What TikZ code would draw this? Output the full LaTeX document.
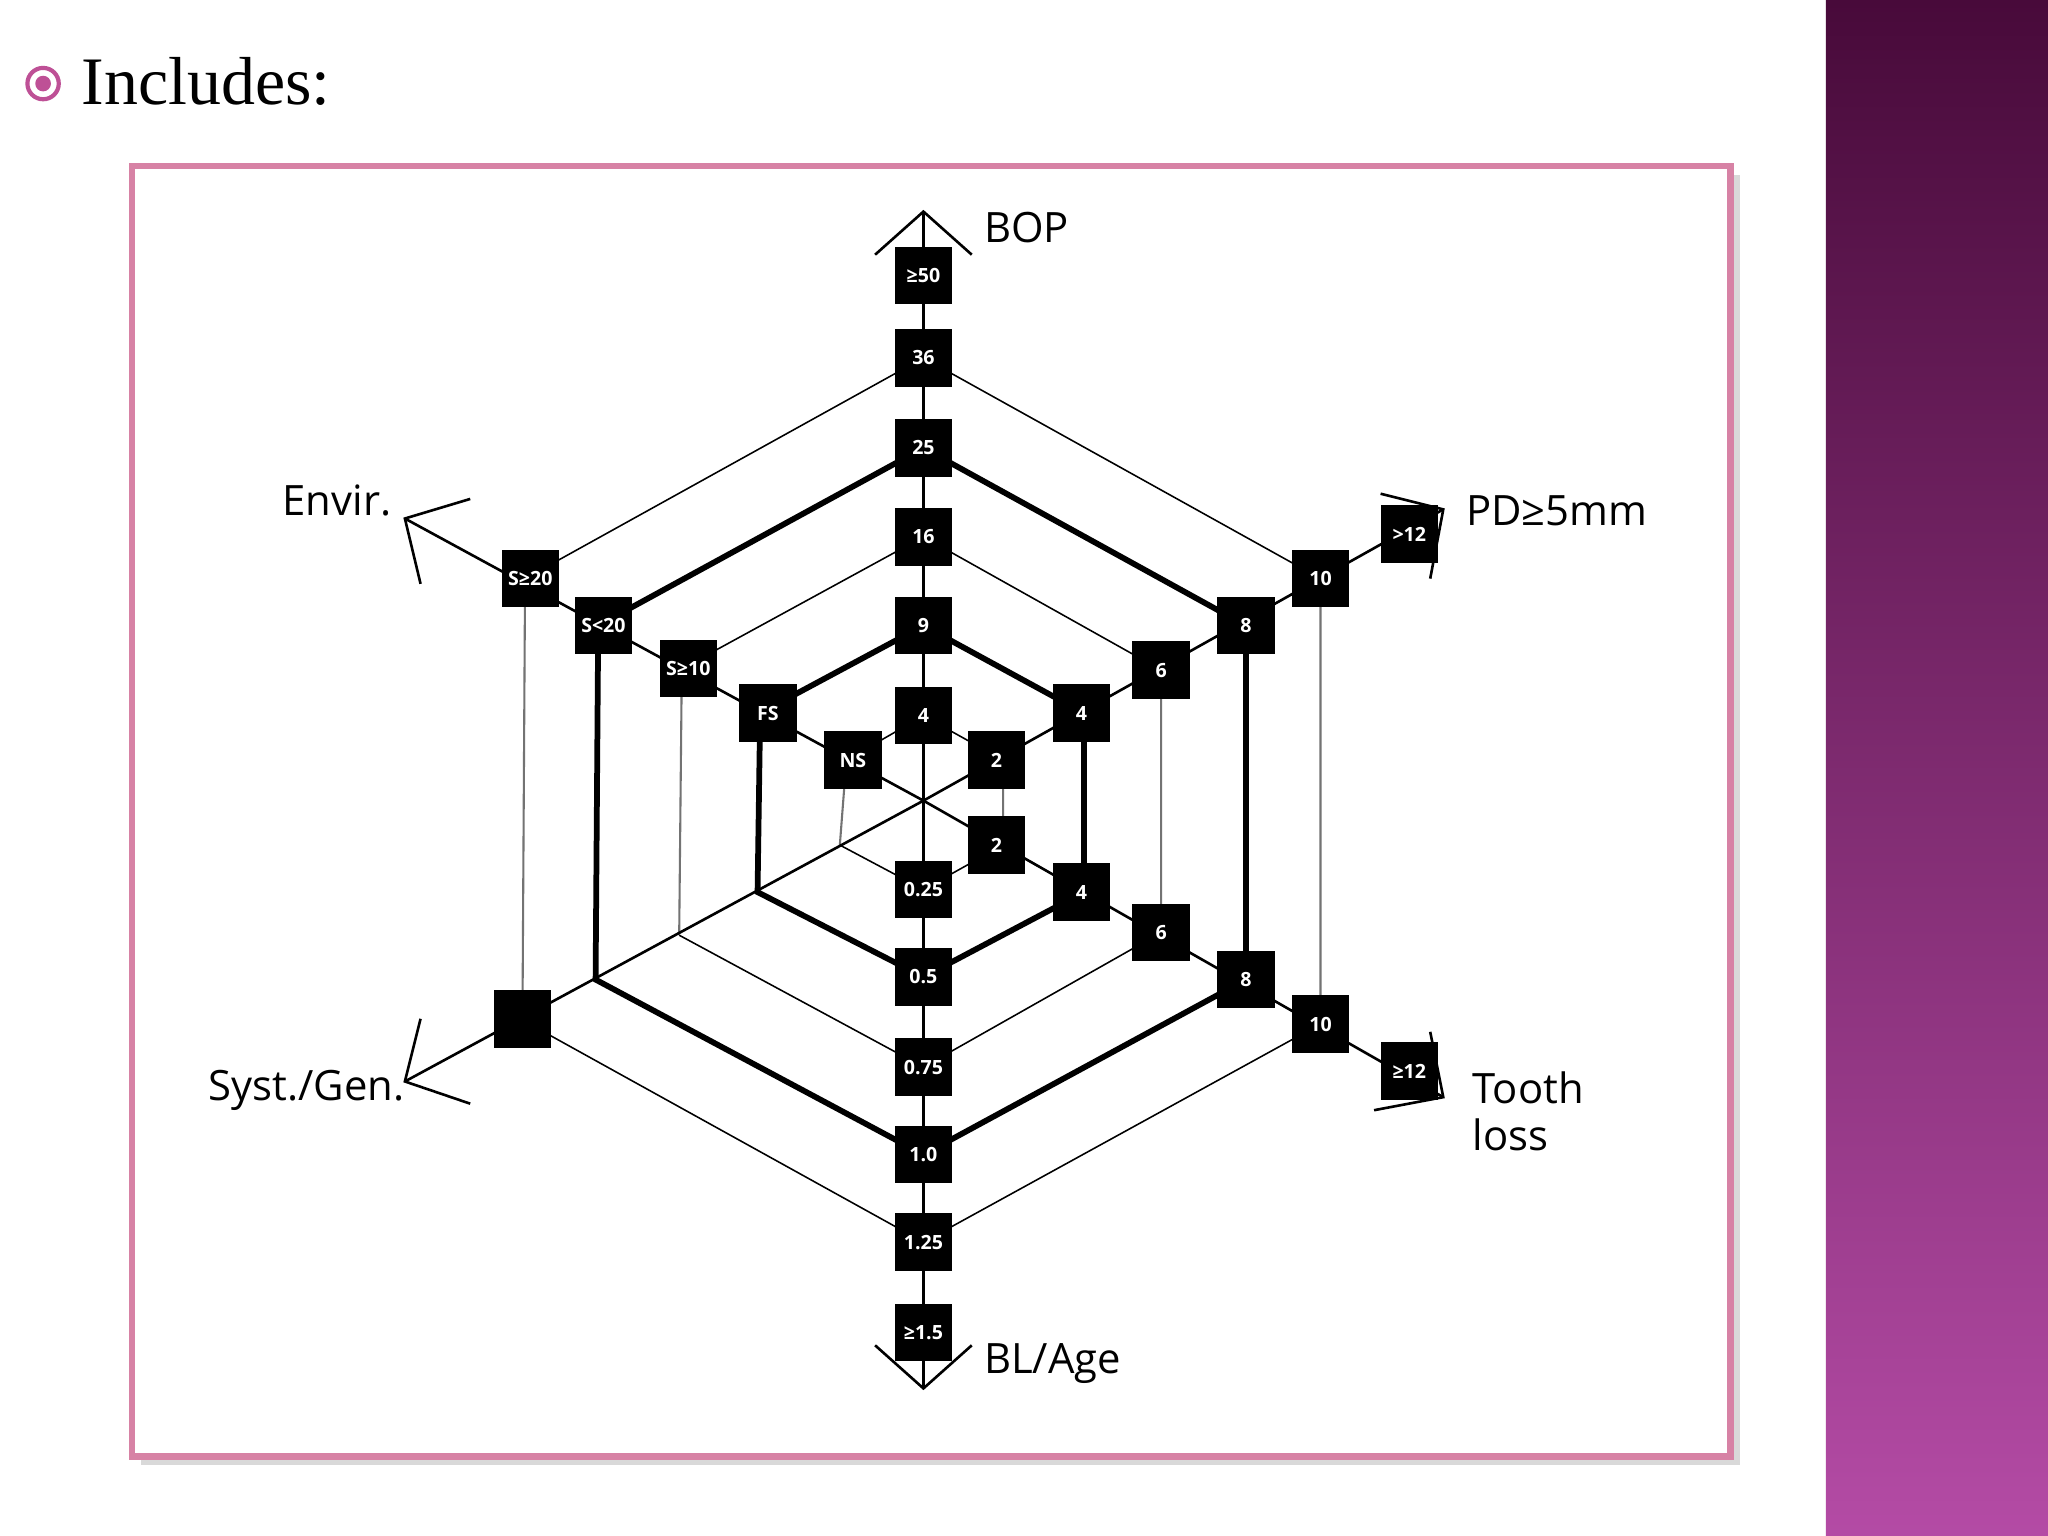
\documentclass[tikz,border=0pt]{standalone}
\usepackage{fontspec}
\setmainfont{Liberation Serif}
\newfontfamily\lab{Open Sans}
\newfontfamily\boxf{Open Sans}
\begin{document}
\begin{tikzpicture}[x=0.5pt,y=-0.5pt,
  bx/.style={fill=black,minimum width=22pt,minimum height=22pt,inner sep=0pt,text=white,font=\boxf\bfseries\fontsize{7.5}{8}\selectfont},
  lb/.style={font=\lab\fontsize{16}{19}\selectfont,inner sep=0pt},
  thin/.style={line width=0.6pt},
  thick/.style={line width=2.2pt},
  gry/.style={line width=0.8pt,black!55},
  ax/.style={line width=1pt},
  tip/.style={line width=1pt}]
\useasboundingbox (0,0) rectangle (1568,1176);
\fill[white] (0,0) rectangle (1568,1176);
\shade[top color={rgb,255:red,72;green,10;blue,58},bottom color={rgb,255:red,180;green,75;blue,165}] (1398,0) rectangle (1568,1176);
% title
\draw[line width=1.6pt,color={rgb,255:red,190;green,80;blue,150}] (33,64) circle (6pt);
\fill[color={rgb,255:red,190;green,80;blue,150}] (33,64) circle (3pt);
\node[anchor=west,font=\fontsize{26}{30}\selectfont,inner sep=0pt] (title) at (62,62) {Includes:};
% frame
\fill[black!15] (108,134) rectangle (1332,1122);
\draw[line width=2.5pt,fill=white,draw={rgb,255:red,215;green,130;blue,165}] (101,127) rectangle (1325,1115);
% vertices
\foreach \i/\t/\b/\rx/\ry/\sy/\ux/\uy/\lx/\ly in {1/548/681/768/582/647/648/582/643/647,2/479/748/830/546/683/582/546/580/683,3/411/817/889/513/714/522/512/520/716,4/343/884/954/479/750/458/479/456/750,5/274/951/1011/443/784/402/443/400/781}{
  \coordinate (T\i) at (707,\t); \coordinate (B\i) at (707,\b);
  \coordinate (R\i) at (\rx,\ry); \coordinate (S\i) at (\rx,\sy);
  \coordinate (U\i) at (\ux,\uy); \coordinate (L\i) at (\lx,\ly);}
\coordinate (C) at (707,613);
% hexagon rings
\draw[thin] (T1)--(R1) (S1)--(B1)--(L1) (U1)--(T1);
\draw[gry] (R1)--(S1) (L1)--(U1);
\draw[thick] (T2)--(R2)--(S2)--(B2)--(L2)--(U2)--cycle;
\draw[thin] (T3)--(R3) (S3)--(B3)--(L3) (U3)--(T3);
\draw[gry] (R3)--(S3) (L3)--(U3);
\draw[thick] (T4)--(R4)--(S4)--(B4)--(L4)--(U4)--cycle;
\draw[thin] (T5)--(R5) (S5)--(B5)--(L5) (U5)--(T5);
\draw[gry] (R5)--(S5) (L5)--(U5);
% axes
\coordinate (tT) at (707,162); \coordinate (tB) at (707,1063);
\coordinate (tR) at (1105,390); \coordinate (tS) at (1105,840);
\coordinate (tU) at (310,397); \coordinate (tL) at (310,828);
\draw[ax] (C)--(tT); \draw[ax] (C)--(tB); \draw[ax] (C)--(tR);
\draw[ax] (C)--(tS); \draw[ax] (C)--(tU); \draw[ax] (C)--(tL);
\draw[tip] (670,195)--(tT)--(744,195);
\draw[tip] (670,1030)--(tB)--(744,1030);
\draw[tip] (1057,378)--(tR)--(1095,443);
\draw[tip] (1095,790)--(tS)--(1052,850);
\draw[tip] (360,382)--(tU)--(322,447);
\draw[tip] (322,780)--(tL)--(360,845);
% boxes
\node[bx] (b50) at (707,211) {≥50};
\node[bx] (b36) at (T5) {36};
\node[bx] (b25) at (T4) {25};
\node[bx] (b16) at (T3) {16};
\node[bx] (b9) at (T2) {9};
\node[bx] (b4) at (T1) {4};
\node[bx] (p2) at (763,582) {2};
\node[bx] (p4) at (828,546) {4};
\node[bx] (p6) at (889,513) {6};
\node[bx] (p8) at (954,479) {8};
\node[bx] (p10) at (1011,443) {10};
\node[bx] (p12) at (1079,409) {>12};
\node[bx] (s2) at (763,647) {2};
\node[bx] (s4) at (828,683) {4};
\node[bx] (s6) at (889,714) {6};
\node[bx] (s8) at (954,750) {8};
\node[bx] (s10) at (1011,784) {10};
\node[bx] (s12) at (1079,820) {≥12};
\node[bx] (a1) at (B1) {0.25};
\node[bx] (a2) at (B2) {0.5};
\node[bx] (a3) at (B3) {0.75};
\node[bx] (a4) at (B4) {1.0};
\node[bx] (a5) at (B5) {1.25};
\node[bx] (a6) at (707,1020) {≥1.5};
\node[bx] (e1) at (653,582) {NS};
\node[bx] (e2) at (588,546) {FS};
\node[bx] (e3) at (527,512) {S≥10};
\node[bx] (e4) at (462,479) {S<20};
\node[bx] (e5) at (406,443) {S≥20};
\node[bx] (g5) at (400,780) {};
% labels
\node[lb,anchor=west] (lBOP) at (753,174) {BOP};
\node[lb,anchor=west] (lPD) at (1122,391) {PD≥5mm};
\node[lb,anchor=east] (lEn) at (300,383) {Envir.};
\node[lb,anchor=east] (lSy) at (310,835) {Syst./Gen.};
\node[lb,anchor=north west,align=left] (lTo) at (1127,820) {Tooth\\[-1pt]loss};
\node[lb,anchor=west] (lBL) at (753,1044) {BL/Age};
\end{tikzpicture}
\end{document}
